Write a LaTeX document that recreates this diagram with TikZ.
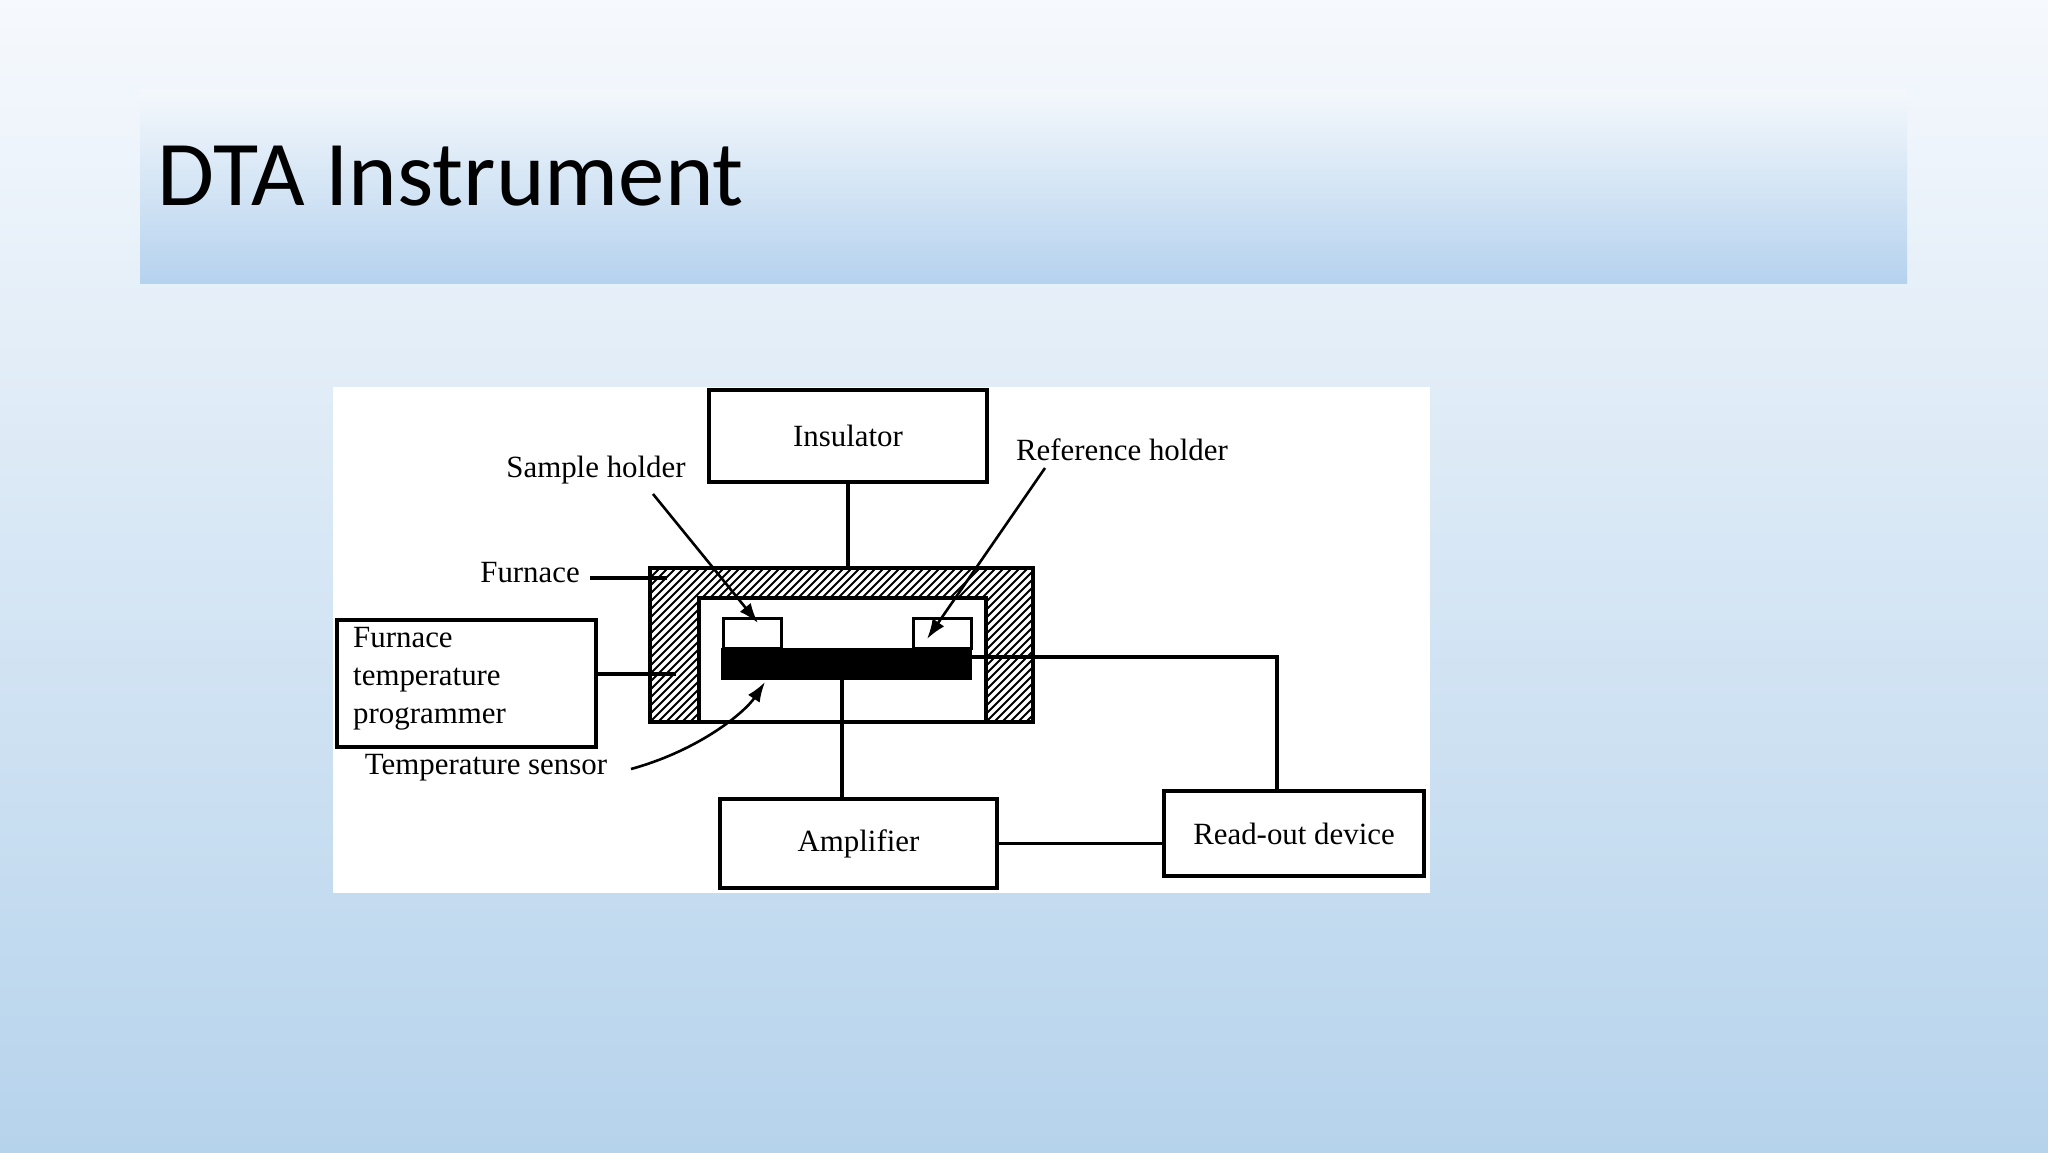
\documentclass[tikz,border=0pt]{standalone}
\usepackage{fontspec}
\usetikzlibrary{arrows.meta}
\setmainfont{Liberation Serif}
\newfontfamily\titlefont{Carlito}
\begin{document}
\begin{tikzpicture}[x=1bp,y=-1bp,
  box/.style={draw,line width=3.4bp,fill=white},
  wire/.style={line width=3.2bp},
  lbl/.style={font=\fontsize{31}{34}\selectfont,inner sep=0},
  arr/.style={line width=2.6bp,-{Latex[length=20bp,width=14bp]}}]
\useasboundingbox (0,0) rectangle (2048,1152);
\fill[top color={rgb,255:red,246;green,249;blue,253},bottom color={rgb,255:red,182;green,211;blue,236}] (0,0) rectangle (2048,1152);
\fill[top color={rgb,255:red,244;green,248;blue,252},bottom color={rgb,255:red,181;green,210;blue,238}] (140,89) rectangle (1907,283);
\node[anchor=base west,inner sep=0,font=\titlefont\fontsize{93}{100}\selectfont] (title) at (157,205) {DTA Instrument};
\fill[white] (333,387) rectangle (1430,893);
% furnace hatch
\begin{scope}
\clip (650,568) rectangle (699,722) (650,568) rectangle (1033,598) (986,568) rectangle (1033,722);
\foreach \i in {-30,...,80} {\draw[line width=2bp] (600+\i*8,740) -- (600+\i*8+200,540);}
\end{scope}
\draw[line width=3.4bp] (650,568) rectangle (1033,722);
\draw[line width=3.4bp] (699,722) -- (699,598) -- (986,598) -- (986,722);
\node[draw,line width=3bp,fill=white,minimum width=58bp,minimum height=30bp,inner sep=0] (sc) at (752,633) {};
\node[draw,line width=3bp,fill=white,minimum width=58bp,minimum height=30bp,inner sep=0] (rc) at (942,633) {};
\node[fill=black,minimum width=251bp,minimum height=32bp,inner sep=0] (bar) at (846.5,664) {};
\node[box,minimum width=278bp,minimum height=92bp,lbl] (ins) at (848,436) {Insulator};
\node[box,minimum width=277bp,minimum height=89bp,lbl] (amp) at (858.5,843.5) {Amplifier};
\node[box,minimum width=260bp,minimum height=85bp,lbl] (ro) at (1294,833.5) {Read-out device};
\node[box,minimum width=259bp,minimum height=127bp,lbl] (ftp) at (466.5,683.5) {};
\node[lbl,anchor=north west,align=left,font=\fontsize{31}{38}\selectfont] (ftpt) at (353,627) {Furnace\\temperature\\programmer};
\draw[wire] (ins.south) -- (848,568);
\draw[wire] (842,680) -- (842,799);
\coordinate (rc1) at (1277,657);
\draw[wire] (972,657) -- (rc1) -- (ro.north -| rc1);
\draw[wire] (amp.east) -- (amp.east -| ro.west);
\coordinate (ftpend) at (676,674);
\draw[wire] (ftp.east |- ftpend) -- (ftpend);
\node[lbl,anchor=east] (furn) at (580,573) {Furnace};
\coordinate (furnend) at (667,578);
\draw[wire] (590,578) -- (furnend);
\node[lbl] (sh) at (596,470) {Sample holder};
\draw[arr] (653,494) -- (758,623);
\node[lbl] (rh) at (1122,450) {Reference holder};
\draw[arr] (1045,468) -- (927,639);
\node[lbl] (ts) at (486,768) {Temperature sensor};
\draw[arr] (631,769) .. controls (700,750) and (745,712) .. (765,682);
\end{tikzpicture}
\end{document}
